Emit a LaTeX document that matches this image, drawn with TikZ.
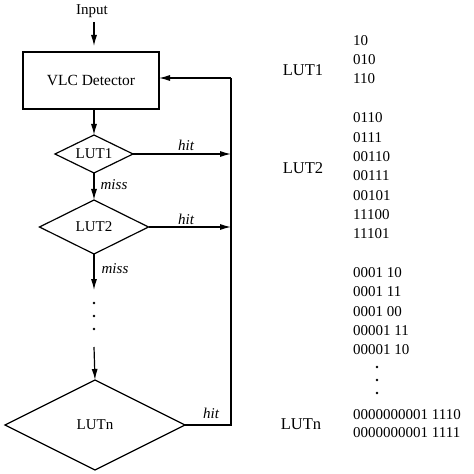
\documentclass[tikz,border=0pt]{standalone}
\usepackage{fontspec}
\setmainfont{Liberation Serif}
\usetikzlibrary{shapes.geometric,arrows.meta}
\tikzset{
  arr/.style={-{Latex[length=11bp,width=6bp]}, line width=1.2bp},
  ln/.style={line width=1.2bp},
  dia/.style={diamond, draw, line width=1.2bp, inner sep=0pt, outer sep=0pt, aspect=2, font=\fontsize{15bp}{18bp}\selectfont},
  lbl/.style={font=\fontsize{15bp}{18bp}\selectfont, inner sep=0pt},
  ital/.style={font=\fontsize{15bp}{18bp}\selectfont\itshape, inner sep=0pt},
  code/.style={font=\fontsize{15bp}{18bp}\selectfont, inner sep=0pt, anchor=west},
  biglbl/.style={font=\fontsize{16.5bp}{19bp}\selectfont, inner sep=0pt},
}
\begin{document}
\begin{tikzpicture}[x=1bp,y=-1bp]
\useasboundingbox (0,0) rectangle (474,474);
% flowchart
\node[lbl] (input) at (92,11) {Input};
\coordinate (inA) at (94,22);
\coordinate (inB) at (94,46);
\node[draw, line width=1.2bp, minimum width=136bp, minimum height=57bp, inner sep=0pt, outer sep=0pt, font=\fontsize{15.5bp}{18bp}\selectfont] (vlc) at (91,80.5) {VLC Detector};
\node[dia, minimum width=78bp, minimum height=38bp] (lut1) at (94,154) {LUT1};
\node[dia, minimum width=109bp, minimum height=54bp] (lut2) at (94,227) {LUT2};
\node[dia, minimum width=180bp, minimum height=90bp] (lutn) at (95,425) {LUTn};
\coordinate (fb) at (231,78);
\coordinate (m2end) at (94,290);
\coordinate (m3start) at (94,347);

\draw[arr] (inA) -- (inB);
\draw[arr] (vlc.south -| lut1) -- (lut1.north);
\draw[arr] (lut1.south) -- (lut2.north);
\draw[arr] (lut2.south) -- (m2end);
\draw[arr] (m3start) -- (lutn.north);
\draw[arr] (lut1.east) -- (lut1.east -| fb);
\draw[arr] (lut2.east) -- (lut2.east -| fb);
\draw[ln] (lutn.east) -- (lutn.east -| fb) -- (fb);
\draw[arr] (fb) -- (fb -| vlc.east);

\fill (94,303) circle (1.4bp);
\fill (94,316) circle (1.4bp);
\fill (94,329) circle (1.4bp);

\node[ital] (h1) at (186,145) {hit};
\node[ital] (h2) at (186,219) {hit};
\node[ital] (h3) at (211,413) {hit};
\node[ital] (m1) at (114,185) {miss};
\node[ital] (m2) at (115,269) {miss};

% tables
\node[biglbl] (t1) at (303,70) {LUT1};
\node[biglbl] (t2) at (303,168) {LUT2};
\node[biglbl] (tn) at (301,424) {LUTn};

\node[code] (c1) at (353,41) {10};
\node[code] (c2) at (353,60) {010};
\node[code] (c3) at (353,79) {110};

\node[code] (d1) at (353,118) {0110};
\node[code] (d2) at (353,137.5) {0111};
\node[code] (d3) at (353,157) {00110};
\node[code] (d4) at (353,176) {00111};
\node[code] (d5) at (353,195.5) {00101};
\node[code] (d6) at (353,215) {11100};
\node[code] (d7) at (353,234) {11101};

\node[code] (e1) at (353,273) {0001 10};
\node[code] (e2) at (353,292) {0001 11};
\node[code] (e3) at (353,312) {0001 00};
\node[code] (e4) at (353,331) {00001 11};
\node[code] (e5) at (353,350) {00001 10};
\fill (377,367) circle (1.3bp);
\fill (377,380) circle (1.3bp);
\fill (377,393) circle (1.3bp);
\node[code] (e6) at (353,415) {0000000001 1110};
\node[code] (e7) at (353,433) {0000000001 1111};
\end{tikzpicture}
\end{document}
